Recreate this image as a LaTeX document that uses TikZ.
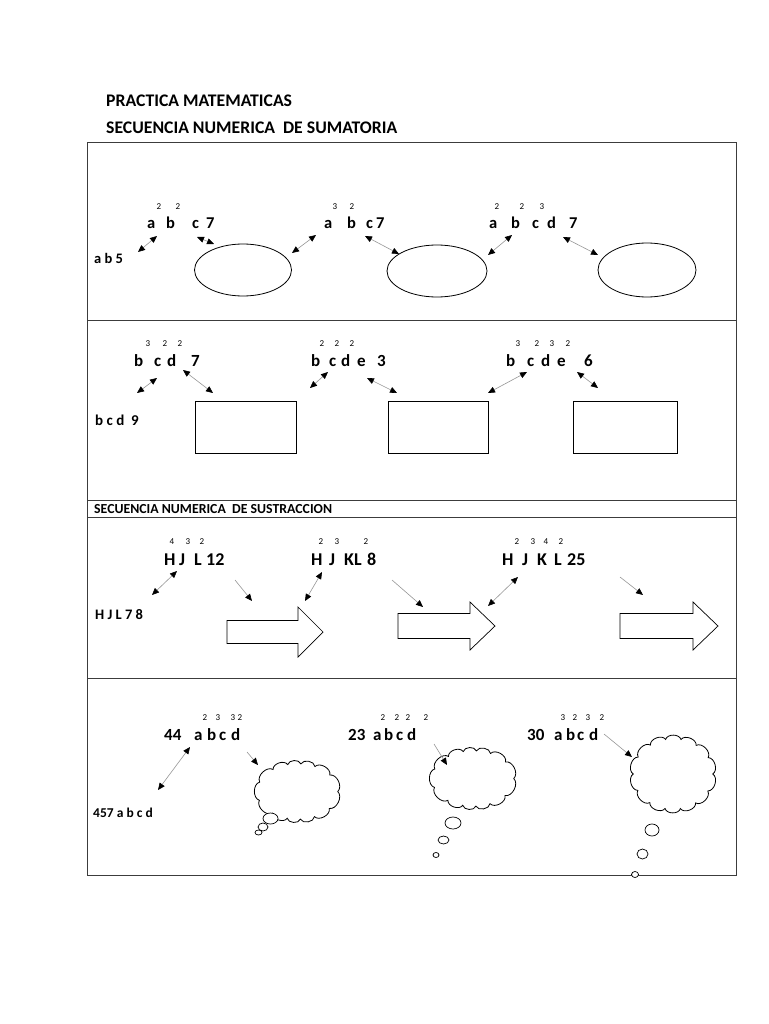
\documentclass[tikz,border=0pt]{standalone}
\usepackage{fontspec}
\setmainfont{Carlito}
\usetikzlibrary{shapes.geometric, arrows.meta, calc}
\definecolor{linkgray}{RGB}{150,150,150}
\definecolor{framegray}{RGB}{60,60,60}
% one letter of a label, set in a box of given width
\newcommand{\ch}[2]{\makebox[#1pt][l]{#2}}

\begin{document}
\begin{tikzpicture}[x=1pt, y=-1pt,
    lbl/.style={font=\bfseries\fontsize{#1}{#1}\selectfont, inner sep=0pt, anchor=base west},
    lbl/.default=14,
    expo/.style={font=\fontsize{9}{9}\selectfont, inner sep=0pt, anchor=base},
    link/.style={linkgray, line width=0.6pt,
      {Triangle[length=7pt,width=6pt,color=black]}-{Triangle[length=7pt,width=6pt,color=black]}},
    point/.style={linkgray, line width=0.6pt, -{Triangle[length=7pt,width=6pt,color=black]}},
    oval/.style={ellipse, draw, line width=0.8pt, inner sep=0pt},
    box/.style={draw, line width=0.8pt, inner sep=0pt, minimum height=52pt},
    core/.style={ellipse, inner sep=0pt},
    bubble/.style={draw, fill=white, line width=0.7pt}]
  \useasboundingbox (0,0) rectangle (768,1024);

  % Titles
  \node[lbl=17.7] (title1) at (106,107) {PRACTICA MATEMATICAS};
  \node[lbl=17.7] (title2) at (106,134) {SECUENCIA NUMERICA~~DE SUMATORIA};

  % Frame and row lines
  \draw[framegray, line width=1pt] (87,143) rectangle (736,875);
  \foreach \y in {320,500,517,678}
    \draw[framegray, line width=1pt] (87,\y) -- (736,\y);
  \node[lbl=13.8] (resta) at (94,513) {SECUENCIA NUMERICA~~DE SUSTRACCION};

  % Row 1: ovals
  \node[lbl=14.5] (ab5) at (94,263) {a b 5};
  \node[lbl=16.5] (s11) at (147,228.5) {\ch{19}{a}\ch{26}{b}\ch{14}{c}7};
  \node[lbl=16.5] (s12) at (324,228.5) {\ch{23}{a}\ch{19}{b}\ch{10}{c}7};
  \node[lbl=16.5] (s13) at (489,228.5) {\ch{22}{a}\ch{21}{b}\ch{15}{c}\ch{22}{d}7};
  \node[oval, minimum width=97pt, minimum height=52pt] (e1) at (243,270) {};
  \node[oval, minimum width=100pt, minimum height=52pt] (e2) at (437,271) {};
  \node[oval, minimum width=98pt, minimum height=54pt] (e3) at (647,270) {};

  % Row 2: boxes
  \node[lbl=15] (bcd9) at (95,425) {b c d~~9};
  \node[lbl=17] (s21) at (134,366) {\ch{20}{b}\ch{13}{c}\ch{24}{d}7};
  \node[lbl=17] (s22) at (311,366) {\ch{18}{b}\ch{12}{c}\ch{16}{d}\ch{20}{e}3};
  \node[lbl=17] (s23) at (506,366) {\ch{21}{b}\ch{14}{c}\ch{16}{d}\ch{27}{e}6};
  \node[box, minimum width=101pt] (r1) at (245.5,427) {};
  \node[box, minimum width=100pt] (r2) at (438,427) {};
  \node[box, minimum width=104pt] (r3) at (625,427) {};

  % Row 3: block arrows
  \node[lbl=14.5] (hjl78) at (95,619) {H J L 7 8};
  \node[lbl=18] (s31) at (164,565) {\ch{15}{H}\ch{15}{J}\ch{12}{L}12};
  \node[lbl=18] (s32) at (311,565) {\ch{18}{H}\ch{15}{J}\ch{10}{K}\ch{13}{L}8};
  \node[lbl=18] (s33) at (502,565) {\ch{20}{H}\ch{15}{J}\ch{17}{K}\ch{13}{L}25};
  \foreach \xa/\xb/\xc/\yc/\hs/\hh in {227/298/323/632/11.5/25, 398/470/495/626/12.5/24, 620/693/718/626/12.5/24}
    \draw[line width=0.7pt] (\xa,\yc-\hs) -- (\xb,\yc-\hs) -- (\xb,\yc-\hh) -- (\xc,\yc)
      -- (\xb,\yc+\hh) -- (\xb,\yc+\hs) -- (\xa,\yc+\hs) -- cycle;

  % Row 4: clouds
  \node[lbl=13.5] (n457) at (93,817) {457 a b c d};
  \node[lbl=17] (s41) at (164,740.5) {\ch{30}{44}\ch{13}{a}\ch{12}{b}\ch{12}{c}d};
  \node[lbl=17] (s42) at (348,740.5) {\ch{25}{23}\ch{11}{a}\ch{12}{b}\ch{11}{c}d};
  \node[lbl=17] (s43) at (527,740.5) {\ch{27}{30}\ch{12}{a}\ch{11}{b}\ch{12}{c}d};
  \node[core, minimum width=80pt, minimum height=55pt] (c1) at (297.5,791.5) {};
  \node[core, minimum width=81pt, minimum height=55pt] (c2) at (473,778.5) {};
  \node[core, minimum width=79pt, minimum height=70pt] (c3) at (673,774) {};
  \foreach \c/\n in {c1/13, c2/13, c3/14}
    \draw[line width=0.8pt] (\c.0) \foreach \i [evaluate=\i as \a using \i*360/\n] in {1,...,\n}
      { to[bend right=75] (\c.\a) };
  \foreach \x/\y/\rx/\ry in {270.5/818.5/7.5/5.5, 263/827/5/4, 258.5/832.5/3.5/2.5,
      453/823/8/6, 443.5/840/5.5/4, 436/855/3/2.5,
      652/830/7/6, 642.5/854/5.5/5, 635/874.5/3.5/3}
    \draw[bubble] (\x,\y) ellipse [x radius=\rx, y radius=\ry];

  % Exponents
  \foreach \x/\y/\d in {159/209.5/2, 178/209.5/2, 335/209.5/3, 352/209.5/2,
      497/209.5/2, 522/209.5/2, 542/209.5/3,
      148/346.5/3, 165/346.5/2, 180/346.5/2, 322/346.5/2, 337/346.5/2, 352/346.5/2,
      518/346.5/3, 537/346.5/2, 552/346.5/3, 568/346.5/2,
      172/544.5/4, 188/544.5/3, 202/544.5/2, 321/544.5/2, 337/544.5/3, 366/544.5/2,
      517/544.5/2, 533/544.5/3, 546/544.5/4, 561/544.5/2,
      205/720/2, 218/720/3, 233/720/3, 240/720/2, 383/720/2, 397/720/2, 408/720/2, 426/720/2,
      563/720/3, 575/720/2, 588/720/3, 602/720/2}
    \node[expo] (x\x-\d) at (\x,\y) {\d};

  % Double-headed links
  \foreach \n/\s/\t in {a1/{138,252}/{157,236}, a2/{197,237}/{214,244}, a3/{292,253}/{316,235},
      a4/{365,236}/{399,254}, a5/{488,255}/{512,235}, a6/{563,237}/{598,255},
      b1/{137,393}/{157,378}, b2/{183,370}/{213,393}, b3/{310,388}/{328,372},
      b4/{367,378}/{397,393}, b5/{488,393}/{527,372}, b6/{577,372}/{598,388},
      c1/{152,595}/{177,571}, c3/{305,601}/{322,572}, c5/{488,606}/{518,577},
      d1/{158,790}/{190,747}} {
    \coordinate (\n-s) at (\s);
    \coordinate (\n-t) at (\t);
    \draw[link] (\n-s) -- (\n-t);
  }
  % Single-headed pointers
  \foreach \n/\s/\t in {c2/{235,580}/{252,601}, c4/{392,580}/{423,607}, c6/{620,577}/{643,595},
      d2/{247,752}/{258,765}, d3/{434,744}/{447,765}, d4/{604,734}/{632,757}} {
    \coordinate (\n-s) at (\s);
    \coordinate (\n-t) at (\t);
    \draw[point] (\n-s) -- (\n-t);
  }
\end{tikzpicture}
\end{document}
